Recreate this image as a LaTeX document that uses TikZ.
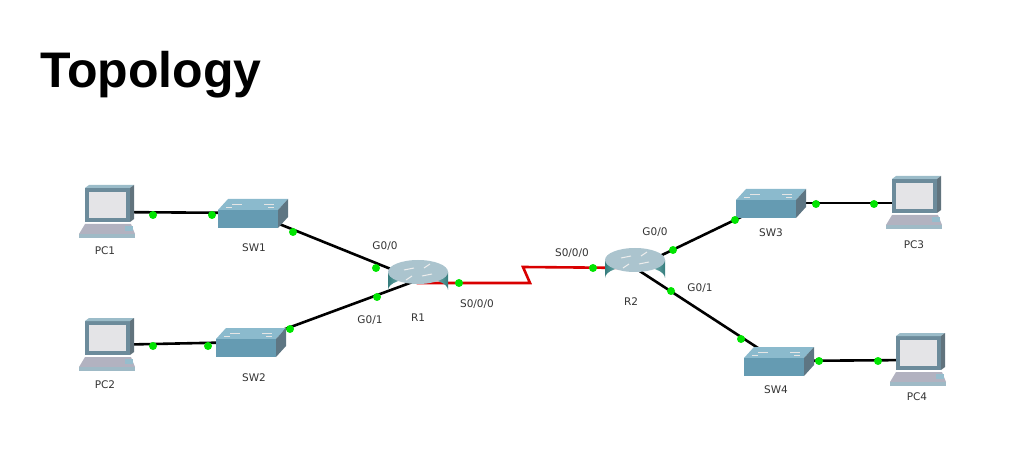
\documentclass[tikz,border=0pt]{standalone}
\usepackage{fontspec}
\setmainfont{DejaVu Sans}
\newfontfamily\titlefont{Liberation Sans}
\begin{document}
\begin{tikzpicture}[x=1pt,y=-1pt,
  lbl/.style={font=\fontsize{10.5}{12}\selectfont, text=black!80, inner sep=0pt},
  port/.style={circle, fill=green!85!black!70!green, draw=none, minimum size=8pt, inner sep=0pt},
  eth/.style={line width=2.6pt, black},
  ser/.style={line width=2.6pt, red!85!black},
  dev/.style={inner sep=0pt, minimum width=40pt, minimum height=30pt}]
\useasboundingbox (0,0) rectangle (1026,473);
\node[anchor=base west, inner sep=0pt, font=\titlefont\bfseries\fontsize{50}{56}\selectfont] (title) at (40,88) {Topology};

% device anchor nodes
\node[dev] (PC1) at (105,212) {};
\node[dev] (PC2) at (105,345) {};
\node[dev] (PC3) at (912,203) {};
\node[dev] (PC4) at (916,360) {};
\node[dev] (SW1) at (252,213) {};
\node[dev] (SW2) at (250,342) {};
\node[dev] (SW3) at (770,203) {};
\node[dev] (SW4) at (778,361) {};
\node[dev] (R1) at (418,280) {};
\node[dev] (R2) at (635,268) {};

% links
\draw[eth] (PC1.center) -- (SW1.center);
\draw[eth] (PC2.center) -- (SW2.center);
\draw[eth] (SW1.center) -- (R1.center);
\draw[eth] (SW2.center) -- (R1.center);
\draw[eth] (R2.center) -- (SW3.center);
\draw[eth] (R2.center) -- (SW4.center);
\draw[eth] (SW3.center) -- (PC3.center);
\draw[eth] (SW4.center) -- (PC4.center);
\coordinate (z1) at (530,283);
\coordinate (z2) at (523,267);
\draw[ser, line join=miter] (R1.center) -- (418,283) -- (z1) -- (z2) -- (R2.center);

% icons
\newcommand\pcicon[1]{%
  \begin{scope}[shift={(#1)}]
    \fill[blue!10!gray!55] (-20,12) -- (26,12) -- (30,22) -- (-26,22) -- cycle;
    \fill[cyan!30!gray!70] (-26,22) rectangle (30,26);
    \fill[cyan!40!gray!80!black] (-20,-24) rectangle (25,10);
    \fill[cyan!35!gray!70] (-20,-24) -- (-16,-27) -- (29,-27) -- (25,-24) -- cycle;
    \fill[cyan!40!gray!60!black] (25,-24) -- (29,-27) -- (29,7) -- (25,10) -- cycle;
    \fill[blue!5!gray!20] (-16,-20) rectangle (21,6);
    \fill[cyan!40!gray!70] (20,14) rectangle (28,19);
  \end{scope}}
\newcommand\swicon[1]{%
  \begin{scope}[shift={(#1)}]
    \fill[cyan!45!gray!75] (-34,-3) -- (26,-3) -- (36,-14) -- (-24,-14) -- cycle;
    \fill[cyan!50!gray!90!black] (-34,-3) rectangle (26,15);
    \fill[cyan!50!gray!60!black] (26,-3) -- (36,-14) -- (36,4) -- (26,15) -- cycle;
    \draw[white!80!gray, line width=0.8pt] (-20,-9) -- (-10,-9) (12,-9) -- (22,-9) (-26,-6)--(-20,-6) (16,-6)--(22,-6);
  \end{scope}}
\newcommand\rticon[1]{%
  \begin{scope}[shift={(#1)}]
    \shade[left color=cyan!40!gray!70!black, right color=cyan!40!gray!70!black, middle color=cyan!20!white!90!gray]
      (-30,-8) -- (-30,10) arc[start angle=180, end angle=360, x radius=30, y radius=12] -- (30,-8) -- cycle;
    \fill[cyan!30!gray!60] (0,-8) ellipse[x radius=30, y radius=12];
    \draw[white!85!gray, line width=1pt] (-14,-10)--(-4,-12) (4,-4)--(14,-6) (-6,-4)--(-12,0) (6,-12)--(12,-16);
  \end{scope}}
\pcicon{PC1.center}\pcicon{PC2.center}\pcicon{PC3.center}\pcicon{PC4.center}
\swicon{SW1.center}\swicon{SW2.center}\swicon{SW3.center}\swicon{SW4.center}
\rticon{R1.center}\rticon{R2.center}

% ports
\node[port] (p1a) at (153,215) {};
\node[port] (p1b) at (212,215) {};
\node[port] (p2a) at (293,232) {};
\node[port] (p2b) at (376,268) {};
\node[port] (p3a) at (290,329) {};
\node[port] (p3b) at (377,297) {};
\node[port] (p4a) at (153,346) {};
\node[port] (p4b) at (208,346) {};
\node[port] (p5a) at (459,283) {};
\node[port] (p5b) at (593,268) {};
\node[port] (p6a) at (673,250) {};
\node[port] (p6b) at (735,220) {};
\node[port] (p7a) at (816,204) {};
\node[port] (p7b) at (874,204) {};
\node[port] (p8a) at (671,291) {};
\node[port] (p8b) at (741,339) {};
\node[port] (p9a) at (819,361) {};
\node[port] (p9b) at (878,361) {};

% labels
\node[lbl] (lPC1) at (105,251) {PC1};
\node[lbl] (lPC2) at (105,385) {PC2};
\node[lbl] (lPC3) at (914,245) {PC3};
\node[lbl] (lPC4) at (917,397) {PC4};
\node[lbl] (lSW1) at (254,248) {SW1};
\node[lbl] (lSW2) at (254,378) {SW2};
\node[lbl] (lSW3) at (771,233) {SW3};
\node[lbl] (lSW4) at (776,390) {SW4};
\node[lbl] (lR1) at (418,318) {R1};
\node[lbl] (lR2) at (631,302) {R2};
\node[lbl] (l1) at (385,246) {G0/0};
\node[lbl] (l2) at (370,320) {G0/1};
\node[lbl] (l3) at (477,304) {S0/0/0};
\node[lbl] (l4) at (572,253) {S0/0/0};
\node[lbl] (l5) at (655,232) {G0/0};
\node[lbl] (l6) at (700,288) {G0/1};
\end{tikzpicture}
\end{document}
